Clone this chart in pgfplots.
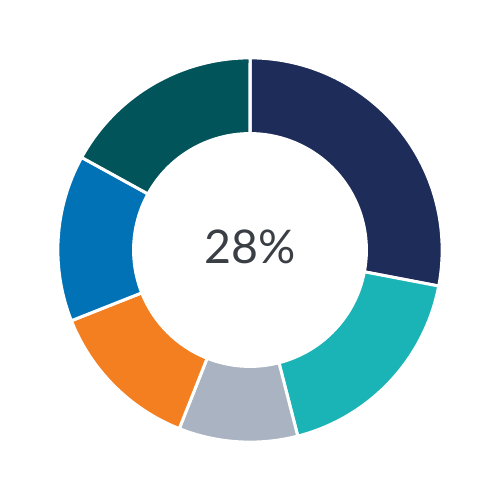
\documentclass[border=0pt]{standalone}
\usepackage{pgfplots}
\usepackage{pgfplotstable}
\usepackage{fontspec}
\setmainfont{Lato}
\pgfplotsset{compat=1.18}

\definecolor{cnavy}{HTML}{1E2C5A}
\definecolor{cteal}{HTML}{1BB4B6}
\definecolor{cgray}{HTML}{A9B3C1}
\definecolor{corange}{HTML}{F37F21}
\definecolor{cblue}{HTML}{0072B5}
\definecolor{cgreen}{HTML}{00545A}
\definecolor{ctext}{HTML}{3A3F45}

% shares in percent, clockwise from 12 o'clock
\pgfplotstableread{
share col
28 cnavy
18 cteal
10 cgray
13 corange
14 cblue
17 cgreen
}\donutdata

\begin{document}
\begin{tikzpicture}
\begin{axis}[
	hide axis,
	scale only axis,
	width=7cm, height=7cm,
	xmin=-3.5, xmax=3.5,
	ymin=-3.5, ymax=3.5,
	clip=false,
]
\path (axis cs:-3.5,-3.5) rectangle (axis cs:3.5,3.5);
\def\Ro{2.69}
\def\Ri{1.63}
\gdef\astart{90}
\pgfplotsforeachungrouped \i in {0,...,5}{
	\pgfplotstablegetelem{\i}{share}\of\donutdata \let\v\pgfplotsretval
	\pgfplotstablegetelem{\i}{col}\of\donutdata \let\c\pgfplotsretval
	\pgfmathsetmacro\aend{\astart-3.6*\v}
	\pgfmathsetmacro\xa{\Ro*cos(\astart)}
	\pgfmathsetmacro\ya{\Ro*sin(\astart)}
	\pgfmathsetmacro\xb{\Ri*cos(\aend)}
	\pgfmathsetmacro\yb{\Ri*sin(\aend)}
	\edef\temp{\noexpand\fill[\c, draw=white, line width=1.2pt, line join=miter]
		(axis cs:\xa,\ya) arc[start angle=\astart, end angle=\aend, radius=\Ro cm]
		-- (axis cs:\xb,\yb) arc[start angle=\aend, end angle=\astart, radius=\Ri cm]
		-- cycle;}
	\temp
	\xdef\astart{\aend}
}
\node[text=ctext, font=\fontsize{18.5}{20}\selectfont, inner sep=0pt]
	at (axis cs:0,0.04) {28\%};
\end{axis}
\end{tikzpicture}
\end{document}
